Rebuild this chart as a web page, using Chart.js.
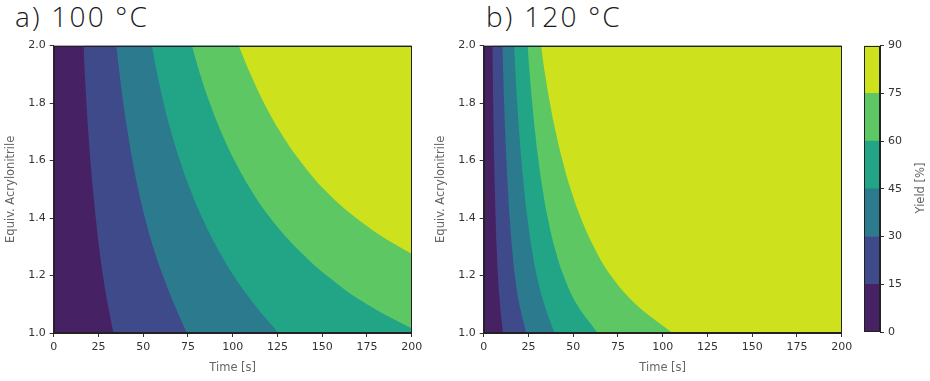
<!DOCTYPE html>
<html>
<head>
<meta charset="utf-8">
<script src="https://cdn.jsdelivr.net/npm/chart.js@4.4.1/dist/chart.umd.min.js"></script>
<style>
  body { margin: 0; background: #fff; width: 930px; height: 381px; overflow: hidden; position: relative; }
  .box { position: absolute; }
  .title { position: absolute; font-family: "Open Sans", sans-serif; font-weight: 300; font-size: 28px; letter-spacing: 2.2px; color: #1a1a1a; line-height: 1; white-space: nowrap; }
  .cblabel { position: absolute; font-family: "DejaVu Sans", sans-serif; font-size: 11.5px; color: #666; transform: rotate(-90deg); transform-origin: center; white-space: nowrap; }
</style>
</head>
<body>
<div class="title" style="left:15px; top:2px;">a) 100 °C</div>
<div class="title" style="left:486px; top:2px;">b) 120 °C</div>

<div class="box" style="left:0; top:35px; width:440px; height:346px;"><canvas id="chartA"></canvas></div>
<div class="box" style="left:430px; top:35px; width:440px; height:346px;"><canvas id="chartB"></canvas></div>
<div class="box" style="left:850px; top:35px; width:80px; height:346px;"><canvas id="cbar"></canvas></div>
<div class="cblabel" style="left:892px; top:181px; width:56px; text-align:center;">Yield [%]</div>

<script>
// Contour levels (yield %) and equivalents grid
const levels = [0, 15, 30, 45, 60, 75, 90];
const equiv = [1.0, 1.1, 1.2, 1.3, 1.4, 1.5, 1.6, 1.7, 1.8, 1.9, 2.0];
const timeTicks = [0, 25, 50, 75, 100, 125, 150, 175, 200];

// a) 100 °C - time [s] where yield reaches 15/30/45/60/75 %
const a15 = [33.4, 30.2, 27.5, 25.3, 23.5, 21.9, 20.5, 19.3, 18.3, 17.4, 16.7];
const a30 = [74.4, 67.3, 61.0, 55.5, 51.0, 47.2, 44.0, 41.3, 38.9, 36.8, 35.0];
const a45 = [125.6, 112, 100.5, 91, 83, 76.2, 70.5, 65.6, 61.4, 57.9, 54.8];
const a60 = [205, 175, 152.5, 135, 121, 110, 101, 93.5, 87.2, 81.8, 77.2];
const a75 = [315, 265, 225, 193, 169, 151, 137.5, 126.5, 117.5, 110, 103.3];

// b) 120 °C
const b15 = [10.8, 9.1, 7.95, 7.2, 6.65, 6.2, 5.85, 5.55, 5.3, 5.1, 4.9];
const b30 = [23.8, 19.9, 17.4, 15.8, 14.5, 13.5, 12.7, 12.0, 11.4, 10.9, 10.5];
const b45 = [39.6, 33.8, 29.6, 26.7, 24.4, 22.6, 21.1, 19.8, 18.7, 17.8, 17.0];
const b60 = [63.7, 52, 44.6, 39.5, 35.8, 32.9, 30.6, 28.7, 27.1, 25.7, 24.5];
const b75 = [105.5, 85, 71, 61.5, 54.3, 48.6, 44, 40.2, 37, 34.3, 32];

const bandColors = ['#462164', '#3e4a89', '#2b7a8d', '#22a586', '#5dc863', '#cde11d'];

const tickFont = { family: 'DejaVu Sans', size: 11 };
const titleFont = { family: 'DejaVu Sans', size: 11.5 };

// fills the lowest band and draws the black frame round the plot
const frame = {
  id: 'frame',
  beforeDatasetsDraw(chart, args, opts) {
    const a = chart.chartArea;
    if (opts.bg) {
      chart.ctx.fillStyle = opts.bg;
      chart.ctx.fillRect(a.left, a.top, a.right - a.left, a.bottom - a.top);
    }
  },
  afterDatasetsDraw(chart) {
    const a = chart.chartArea, ctx = chart.ctx;
    ctx.save();
    ctx.strokeStyle = '#222';
    ctx.lineWidth = 1;
    ctx.strokeRect(Math.round(a.left) + 0.5, Math.round(a.top) + 0.5, Math.round(a.right - a.left) - 1, Math.round(a.bottom - a.top) - 1);
    ctx.restore();
  }
};

function contourChart(id, bounds) {
  const datasets = bounds.map((times, i) => ({
    data: equiv.map((e, j) => ({ x: times[j], y: e })),
    backgroundColor: bandColors[i + 1],
    borderWidth: 0,
    pointRadius: 0,
    fill: { value: 200 },
    tension: 0.4,
    order: 10 - i
  }));
  return new Chart(document.getElementById(id), {
    type: 'line',
    data: { datasets },
    plugins: [frame],
    options: {
      indexAxis: 'y',
      responsive: true,
      maintainAspectRatio: false,
      animation: false,
      events: [],
      layout: { padding: { top: 10, right: 28.3, bottom: 0, left: 0 } },
      plugins: {
        legend: { display: false },
        tooltip: { enabled: false },
        frame: { bg: bandColors[0] }
      },
      scales: {
        x: {
          type: 'linear', min: 0, max: 200,
          afterBuildTicks: s => { s.ticks = timeTicks.map(v => ({ value: v })); },
          afterFit: s => { s.height = 48; },
          ticks: { font: tickFont, color: '#333', padding: 4, maxRotation: 0 },
          grid: { drawOnChartArea: false, tickLength: 4, color: '#333' },
          border: { color: '#222' },
          title: { display: true, text: 'Time [s]', font: titleFont, color: '#666', padding: { top: 0, bottom: 6 } }
        },
        y: {
          type: 'linear', min: 1, max: 2,
          afterFit: s => { s.width = 53.7; },
          ticks: { stepSize: 0.2, font: tickFont, color: '#333', padding: 4, callback: v => v.toFixed(1) },
          grid: { drawOnChartArea: false, tickLength: 4, color: '#333' },
          border: { color: '#222' },
          title: { display: true, text: 'Equiv. Acrylonitrile', font: titleFont, color: '#666', padding: { top: 4, bottom: 4 } }
        }
      }
    }
  });
}

contourChart('chartA', [a15, a30, a45, a60, a75]);
contourChart('chartB', [b15, b30, b45, b60, b75]);

// colour bar
new Chart(document.getElementById('cbar'), {
  type: 'bar',
  data: {
    labels: [''],
    datasets: bandColors.map((c, i) => ({
      data: [[levels[i], levels[i + 1]]],
      backgroundColor: c,
      barPercentage: 1,
      categoryPercentage: 1,
      grouped: false
    }))
  },
  plugins: [frame],
  options: {
    responsive: true,
    maintainAspectRatio: false,
    animation: false,
    events: [],
    layout: { padding: { top: 9, right: 0, bottom: 49, left: 14 } },
    plugins: { legend: { display: false }, tooltip: { enabled: false }, frame: {} },
    scales: {
      x: { display: false },
      y: {
        position: 'right', min: 0, max: 90,
        afterFit: s => { s.width = 50; },
        ticks: { stepSize: 15, font: tickFont, color: '#333', padding: 4 },
        grid: { drawOnChartArea: false, tickLength: 4, color: '#333' },
        border: { color: '#222' }
      }
    }
  }
});
</script>
</body>
</html>
